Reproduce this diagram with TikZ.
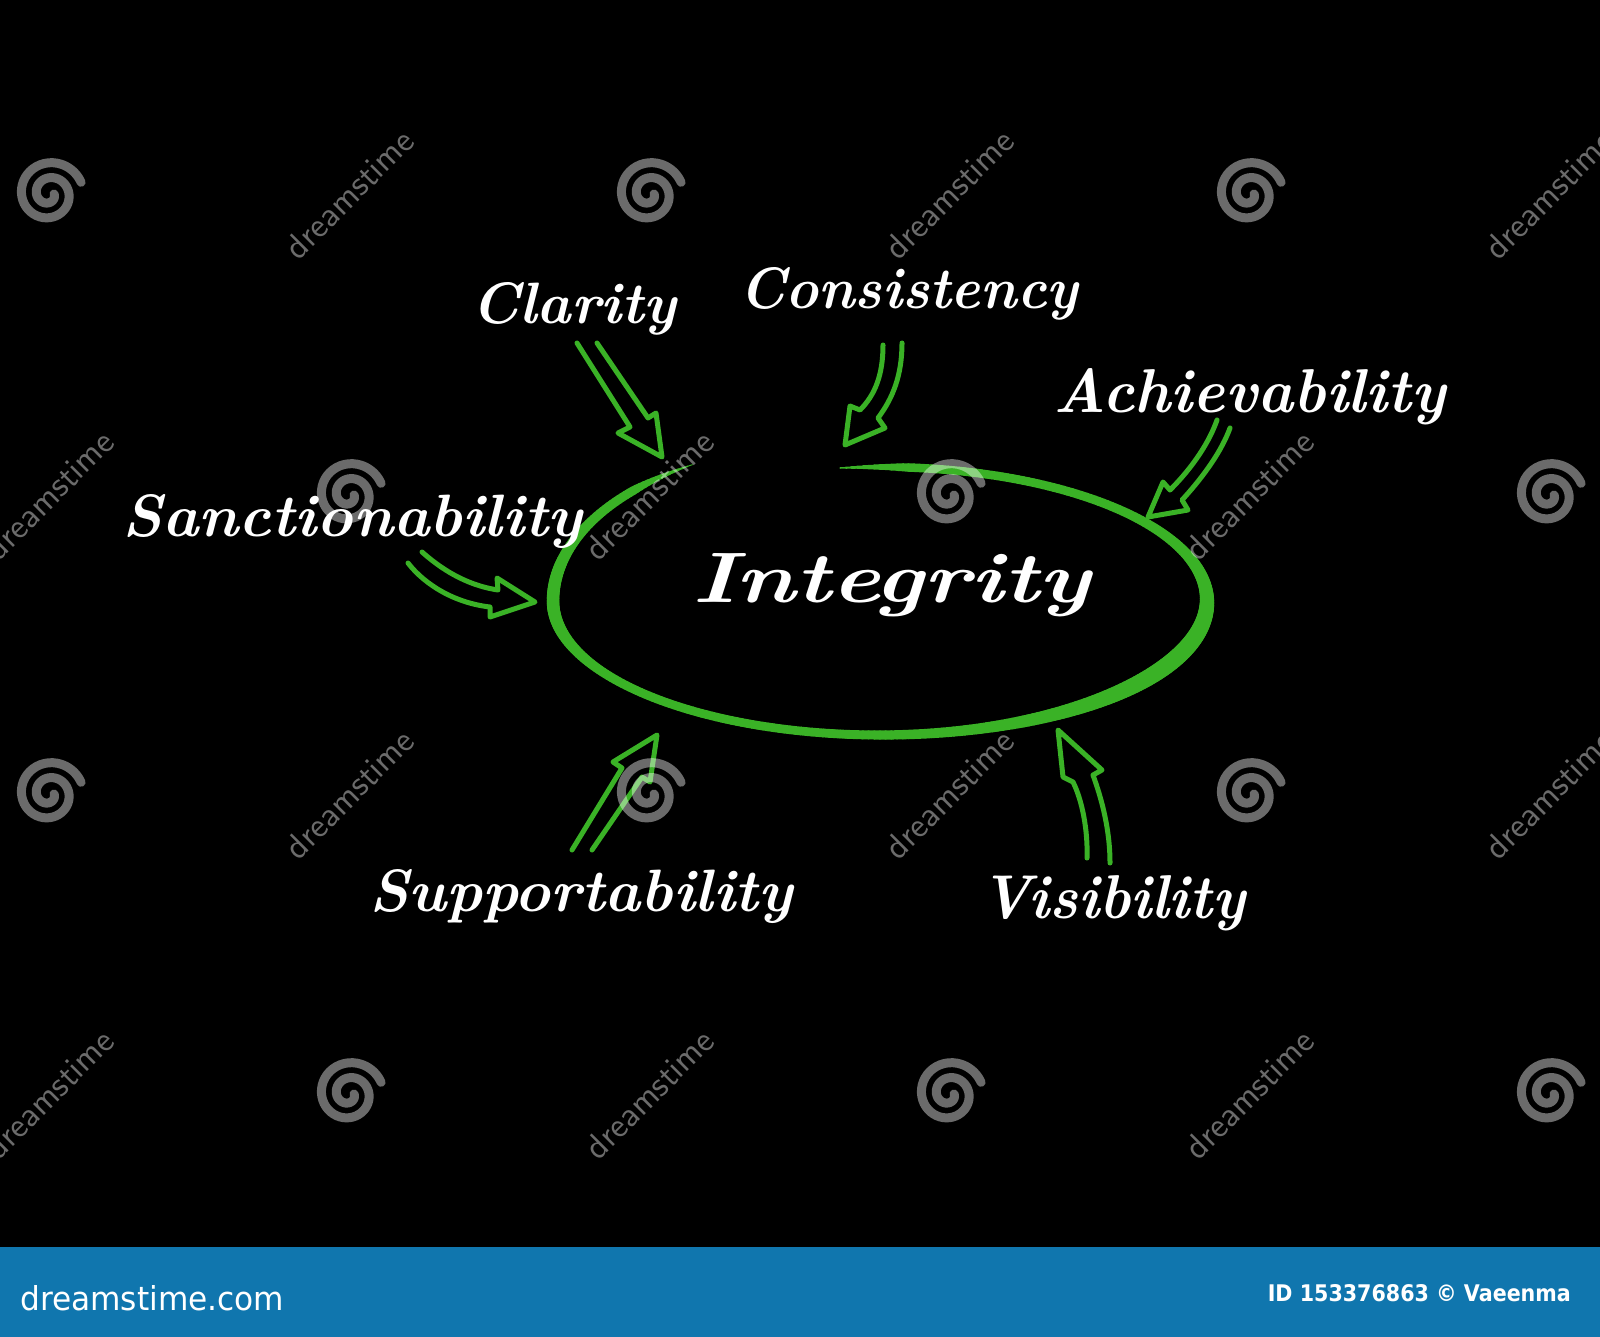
\documentclass[tikz,border=0pt]{standalone}
\usepackage{graphicx}
\usepackage{fontspec}
\newfontfamily\barfont{DejaVu Sans}
\definecolor{grn}{RGB}{58,178,38}
\definecolor{barblue}{RGB}{16,118,174}
\tikzset{
  word/.style={inner sep=0pt, text=white, font=\bfseries\itshape},
  arrowline/.style={draw=grn, line width=5pt, line join=round, line cap=round},
  ring/.style={draw=grn, line cap=round, line join=round},
  wm/.style={draw=white, draw opacity=0.42, line width=9pt, line cap=round},
  wmtext/.style={inner sep=0pt, text=white, text opacity=0.42, font=\sffamily},
  declare function={
    ex(\a)=880+327*cos(\a);
    ey(\a)=601+134*sin(\a)-(\a>540)*28*sin(1.3*(\a-540));
    ew(\a)=(8.5+8.5*exp(-((\a-385)/40)^2)+4*exp(-((\a-540)/25)^2))*min(1,(\a-261)/14)*min(1,(596-\a)/15);
  }
}
\newcommand{\wordat}[6]{\node[word, anchor=base west] (#1) at (#2,#3) {\resizebox{#4pt}{#5pt}{#6}};}
\newcommand{\wmspiral}[2]{\draw[wm] plot[domain=0:700, samples=90, smooth] ({#1+(5+\x/24)*cos(\x)}, {#2+(5+\x/24)*sin(\x)});}
\newcommand{\wmword}[2]{\node[wmtext, rotate=45] at (#1,#2) {\resizebox{166pt}{!}{dreamstime}};}
\begin{document}
\begin{tikzpicture}[x=1pt, y=-1pt]
\useasboundingbox (0,0) rectangle (1600,1337);
\clip (0,0) rectangle (1600,1337);
\fill[black] (0,0) rectangle (1600,1337);

% hand-drawn ellipse around Integrity, stroke width varies along it
\foreach \t in {263,...,594}{
  \pgfmathsetmacro\lw{ew(\t+0.5)}
  \draw[ring, line width=\lw pt] ({ex(\t)},{ey(\t)}) -- ({ex(\t+1)},{ey(\t+1)});
}

% arrows
\draw[arrowline] (577,343) -- (630,427) -- (618,433) -- (662,457) -- (656,413) -- (648,418) -- (597,343);
\draw[arrowline] (883,345) .. controls (883,375) and (875,395) .. (860,410) -- (850,406) -- (845,445) -- (885,428) -- (878,418) .. controls (893,398) and (902,375) .. (902,343);
\draw[arrowline] (1217,420) .. controls (1210,440) and (1195,465) .. (1170,490) -- (1163,482) -- (1148,517) -- (1188,510) -- (1182,500) .. controls (1205,475) and (1222,450) .. (1230,428);
\draw[arrowline] (422,552) .. controls (440,568) and (465,585) .. (498,590) -- (497,578) -- (535,602) -- (490,617) -- (490,607) .. controls (455,603) and (425,585) .. (408,563);
\draw[arrowline] (572,850) -- (622,768) -- (613,762) -- (657,735) -- (650,782) -- (642,777) -- (592,850);
\draw[arrowline] (1087,858) .. controls (1088,830) and (1082,800) .. (1073,782) -- (1063,777) -- (1058,730) -- (1102,770) -- (1093,775) .. controls (1102,800) and (1110,830) .. (1110,863);

% labels
\wordat{clarity}{471}{324}{205}{41}{Clarity}
\wordat{consistency}{739}{309}{339}{41}{Consistency}
\wordat{achievability}{1053}{412}{392}{44}{Achievability}
\wordat{sanction}{122}{536}{460}{42}{Sanctionability}
\wordat{integrity}{692}{602}{398}{49}{Integrity}
\wordat{support}{369}{911}{423}{42}{Supportability}
\wordat{visibility}{980}{918}{265}{43}{Visibility}

% watermark
\foreach \px/\py in {49/194,649/194,1249/194,349/495,949/495,1549/495,49/794,649/794,1249/794,349/1094,949/1094,1549/1094}{\wmspiral{\px}{\py}}
\foreach \px/\py in {349/194,949/194,1549/194,49/495,649/495,1249/495,349/794,949/794,1549/794,49/1094,649/1094,1249/1094}{\wmword{\px}{\py}}

% bottom bar
\fill[barblue] (0,1247) rectangle (1600,1337);
\node[inner sep=0pt, text=white, anchor=base west] (brand) at (20,1310) {\resizebox{264pt}{25pt}{\barfont dreamstime.com}};
\node[inner sep=0pt, text=white, anchor=base east] (imgid) at (1571,1301) {\resizebox{303pt}{17pt}{\barfont\bfseries ID 153376863 © Vaeenma}};
\end{tikzpicture}
\end{document}
